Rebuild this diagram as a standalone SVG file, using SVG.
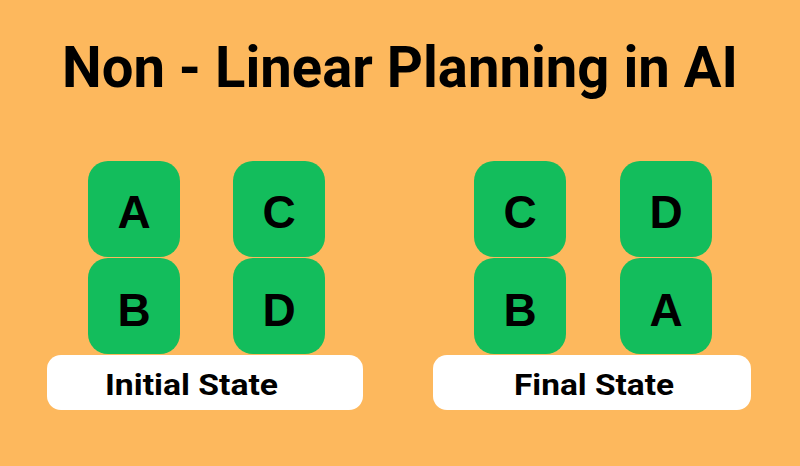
<svg xmlns="http://www.w3.org/2000/svg" width="800" height="466" viewBox="0 0 800 466">
<style>
.blk{fill:#13bd5c}
.bar{fill:#ffffff}
.lt{font-family:"Liberation Sans",Arial,sans-serif;font-weight:bold;font-size:46px;fill:#000;text-anchor:middle}
.lbl{font-family:Roboto,"Liberation Sans",sans-serif;font-weight:700;font-size:30px;fill:#000}
.ttl{font-family:Roboto,"Liberation Sans",sans-serif;font-weight:700;font-size:58px;fill:#000}
</style>
<rect width="800" height="466" fill="#fdb85d"/>
<text class="ttl" x="62" y="87" textLength="676" lengthAdjust="spacingAndGlyphs">Non - Linear Planning in AI</text>
<g id="initial-label"><rect class="bar" x="47" y="355" width="316" height="55" rx="14"/><text class="lbl" x="105" y="395" textLength="173" lengthAdjust="spacingAndGlyphs">Initial State</text></g>
<g id="final-label"><rect class="bar" x="433" y="355" width="318" height="55" rx="14"/><text class="lbl" x="514" y="395" textLength="160" lengthAdjust="spacingAndGlyphs">Final State</text></g>
<g id="init-A"><rect class="blk" x="88" y="161" width="92" height="96" rx="20"/><text class="lt" x="134" y="228">A</text></g>
<g id="init-B"><rect class="blk" x="88" y="258" width="92" height="96" rx="20"/><text class="lt" x="134" y="326">B</text></g>
<g id="init-C"><rect class="blk" x="233" y="161" width="92" height="96" rx="20"/><text class="lt" x="279" y="228">C</text></g>
<g id="init-D"><rect class="blk" x="233" y="258" width="92" height="96" rx="20"/><text class="lt" x="279" y="326">D</text></g>
<g id="final-C"><rect class="blk" x="474" y="161" width="92" height="96" rx="20"/><text class="lt" x="520" y="228">C</text></g>
<g id="final-B"><rect class="blk" x="474" y="258" width="92" height="96" rx="20"/><text class="lt" x="520" y="326">B</text></g>
<g id="final-D"><rect class="blk" x="620" y="161" width="92" height="96" rx="20"/><text class="lt" x="666" y="228">D</text></g>
<g id="final-A"><rect class="blk" x="620" y="258" width="92" height="96" rx="20"/><text class="lt" x="666" y="326">A</text></g>
<g id="connectors"/>
</svg>
